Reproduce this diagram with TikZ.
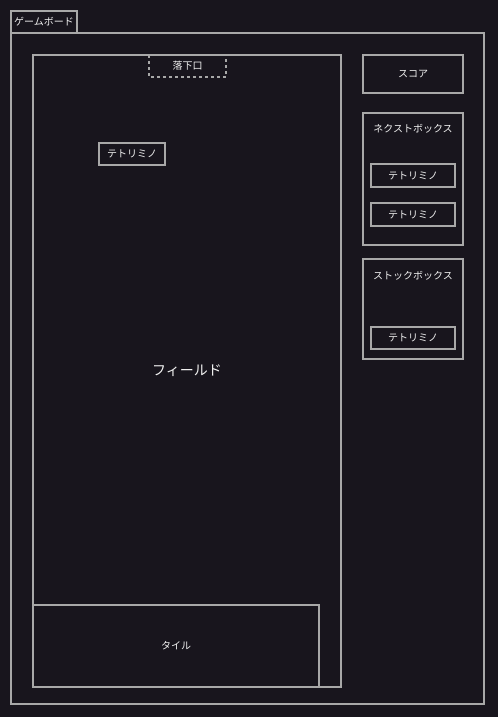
\documentclass[tikz,border=0pt]{standalone}
\usepackage{fontspec}
\setmainfont{Noto Sans CJK JP}
\definecolor{bgc}{HTML}{18151D}
\definecolor{linec}{HTML}{A8A8A8}
\definecolor{txtc}{HTML}{F2F2F2}
\begin{document}
\begin{tikzpicture}[x=1pt,y=-1pt,
  box/.style={draw=linec,line width=1.1pt},
  dbox/.style={draw=linec,line width=1.1pt,dash pattern=on 3pt off 3pt},
  lbl/.style={text=txtc,font=\fontsize{10}{12}\selectfont,inner sep=0pt},
  big/.style={text=txtc,font=\fontsize{14}{16}\selectfont,inner sep=0pt}]
\fill[bgc] (0,0) rectangle (498,717);
\useasboundingbox (0,0) rectangle (498,717);
% game board
\draw[box] (11,33) rectangle (484,704);
\draw[box] (11,11) rectangle (77,33);
\node[lbl] (gb) at (44,22) {ゲームボード};
% field
\draw[box] (33,55) rectangle (341,687);
\node[big] (field) at (187,371) {フィールド};
\draw[dbox] (149,55) rectangle (226,77);
\node[lbl] (drop) at (187.5,66) {落下口};
\draw[box] (99,143) rectangle (165,165);
\node[lbl] (t0) at (132,154) {テトリミノ};
\draw[box] (33,605) rectangle (319,687);
\node[lbl] (tile) at (176,646) {タイル};
% score
\draw[box] (363,55) rectangle (463,93);
\node[lbl] (score) at (413,74) {スコア};
% next box
\draw[box] (363,113) rectangle (463,245);
\node[lbl] (next) at (413,129) {ネクストボックス};
\draw[box] (371,164) rectangle (455,187);
\node[lbl] (t1) at (413,175.5) {テトリミノ};
\draw[box] (371,203) rectangle (455,226);
\node[lbl] (t2) at (413,214.5) {テトリミノ};
% stock box
\draw[box] (363,259) rectangle (463,359);
\node[lbl] (stock) at (413,276) {ストックボックス};
\draw[box] (371,327) rectangle (455,349);
\node[lbl] (t3) at (413,338) {テトリミノ};
\end{tikzpicture}
\end{document}
